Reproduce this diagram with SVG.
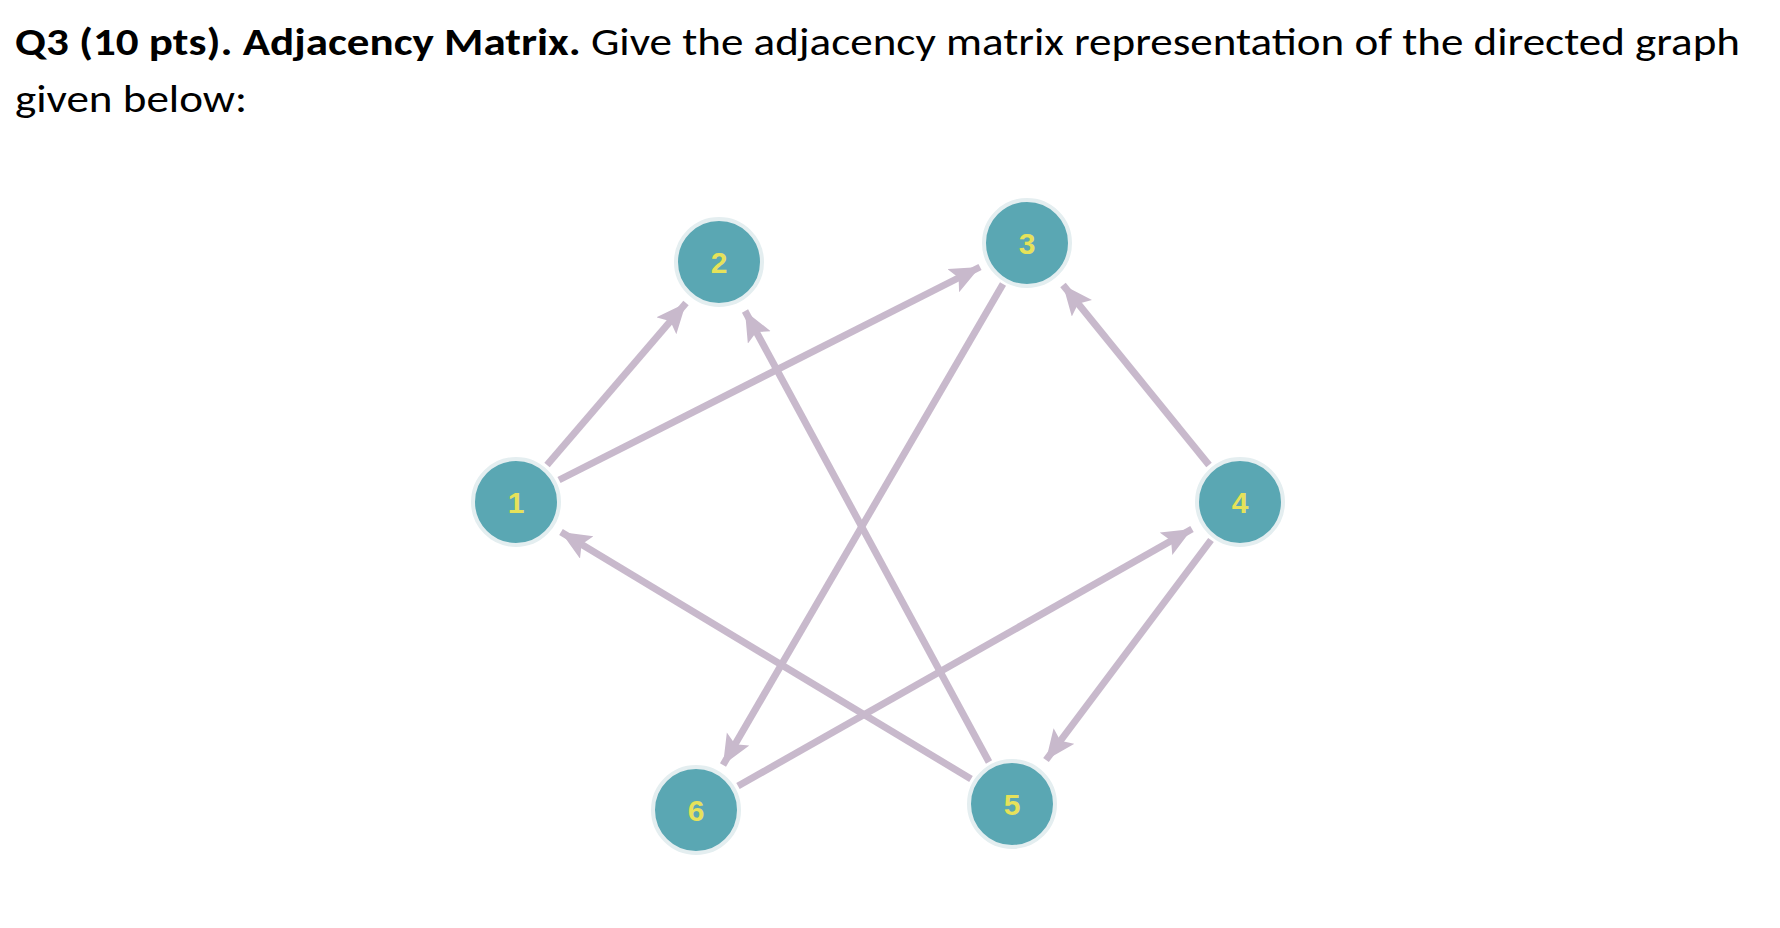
<svg xmlns="http://www.w3.org/2000/svg" width="1780" height="928" viewBox="0 0 1780 928">
<style>
.t{font-family:Calibri,"Liberation Sans",Arial,sans-serif;font-size:39px;fill:#000}
.e{stroke:#c8b9cc;stroke-width:7;fill:none;marker-end:url(#ah)}
.n{fill:#5aa7b3;stroke:#e4eef0;stroke-width:4}
.l{font-family:"Liberation Sans",Arial,sans-serif;font-weight:bold;font-size:30px;fill:#e6e25a;text-anchor:middle}
</style>
<defs>
<marker id="ah" markerUnits="userSpaceOnUse" markerWidth="32" markerHeight="28" refX="30" refY="13" orient="auto">
<path d="M0,0 L30,13 L0,26 L6,13 Z" fill="#c8b9cc"/>
</marker>
</defs>
<rect width="1780" height="928" fill="#fff"/>
<text class="t" x="15" y="55" textLength="1725" lengthAdjust="spacingAndGlyphs"><tspan font-weight="bold">Q3 (10 pts). Adjacency Matrix.</tspan> Give the adjacency matrix representation of the directed graph</text>
<text class="t" x="15" y="112" textLength="232" lengthAdjust="spacingAndGlyphs">given below:</text>
<g id="edges">
<line class="e" x1="547" y1="465" x2="686" y2="303"/>
<line class="e" x1="559" y1="480" x2="980" y2="267"/>
<line class="e" x1="1003" y1="284" x2="723" y2="765"/>
<line class="e" x1="1209" y1="465" x2="1063" y2="285"/>
<line class="e" x1="1211" y1="540" x2="1046" y2="760"/>
<line class="e" x1="971" y1="779" x2="561" y2="532"/>
<line class="e" x1="989" y1="762" x2="745" y2="311"/>
<line class="e" x1="738" y1="786" x2="1192" y2="529"/>
</g>
<g id="n1"><circle class="n" cx="516" cy="502" r="43"/><text class="l" x="516" y="513">1</text></g>
<g id="n2"><circle class="n" cx="719" cy="262" r="43"/><text class="l" x="719" y="273">2</text></g>
<g id="n3"><circle class="n" cx="1027" cy="243" r="43"/><text class="l" x="1027" y="254">3</text></g>
<g id="n4"><circle class="n" cx="1240" cy="502" r="43"/><text class="l" x="1240" y="513">4</text></g>
<g id="n5"><circle class="n" cx="1012" cy="804" r="43"/><text class="l" x="1012" y="815">5</text></g>
<g id="n6"><circle class="n" cx="696" cy="810" r="43"/><text class="l" x="696" y="821">6</text></g>
</svg>
